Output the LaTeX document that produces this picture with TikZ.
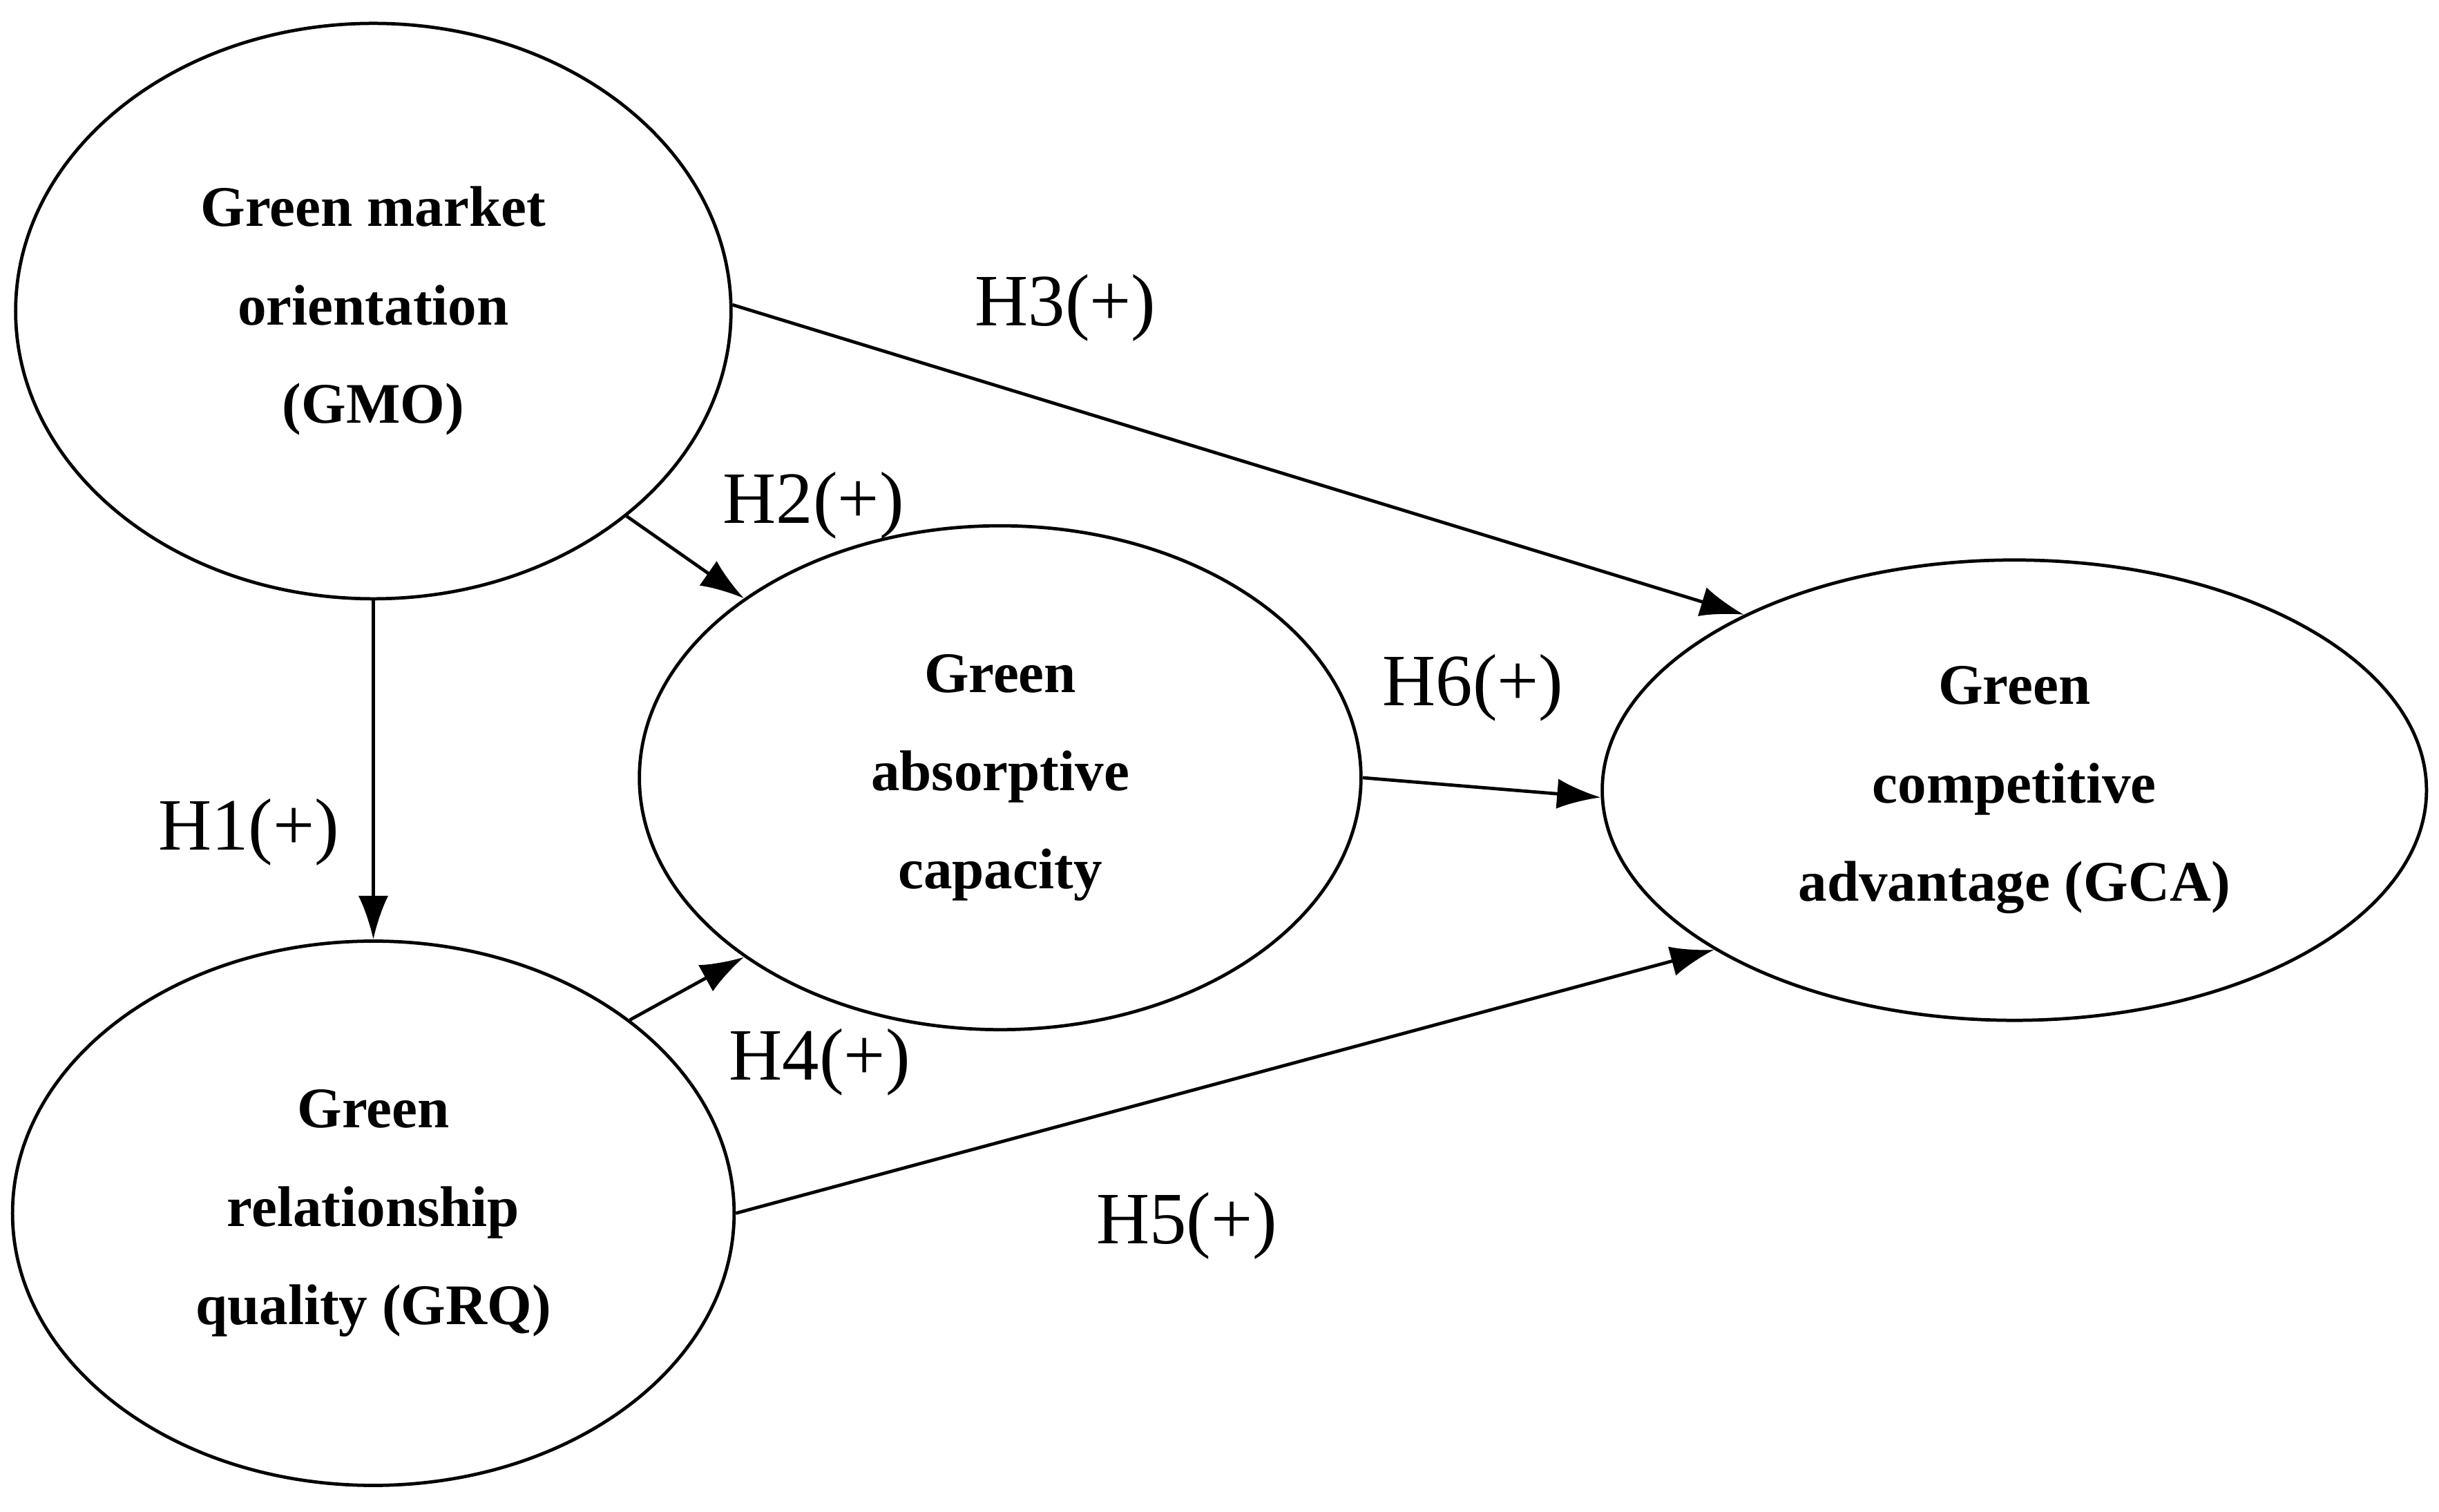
\documentclass[tikz,border=0pt]{standalone}
\usepackage{fontspec}
\setmainfont{Liberation Serif}
\usetikzlibrary{shapes.geometric,arrows.meta}
\begin{document}
\begin{tikzpicture}[x=0.02cm,y=-0.02cm,
  ell/.style={draw,ellipse,line width=1.2pt,inner sep=0pt,align=center,font=\fontsize{21}{36}\selectfont\bfseries},
  arr/.style={line width=1.2pt,-{Latex[length=16pt,width=11pt]}},
  hyp/.style={font=\fontsize{27}{30}\selectfont}]
\useasboundingbox (0,0) rectangle (1568,972);
\node[ell,minimum width=460\pgflinewidth,minimum width=9.2cm,minimum height=7.4cm] (gmo) at (240,200) {Green market\\orientation\\(GMO)};
\node[ell,minimum width=9.28cm,minimum height=7.0cm] (grq) at (240,780) {Green\\relationship\\quality (GRQ)};
\node[ell,minimum width=9.28cm,minimum height=6.48cm] (gac) at (643,500) {Green\\absorptive\\capacity};
\node[ell,minimum width=10.6cm,minimum height=5.92cm] (gca) at (1295,508) {Green\\competitive\\advantage (GCA)};
\draw[arr] (gmo.south) -- (grq.north);
\draw[arr] (gmo.-39) -- (gac.145);
\draw[arr] (gmo.1) -- (gca.147);
\draw[arr] (grq.37) -- (gac.215);
\draw[arr] (grq.0) -- (gca.208);
\draw[arr] (gac.0) -- (gca.181);
\node[hyp] (h3) at (685,198) {H3(+)};
\node[hyp] (h2) at (523,325) {H2(+)};
\node[hyp] (h6) at (947,442) {H6(+)};
\node[hyp] (h1) at (160,535) {H1(+)};
\node[hyp] (h4) at (527,683) {H4(+)};
\node[hyp] (h5) at (763,788) {H5(+)};
\end{tikzpicture}
\end{document}
